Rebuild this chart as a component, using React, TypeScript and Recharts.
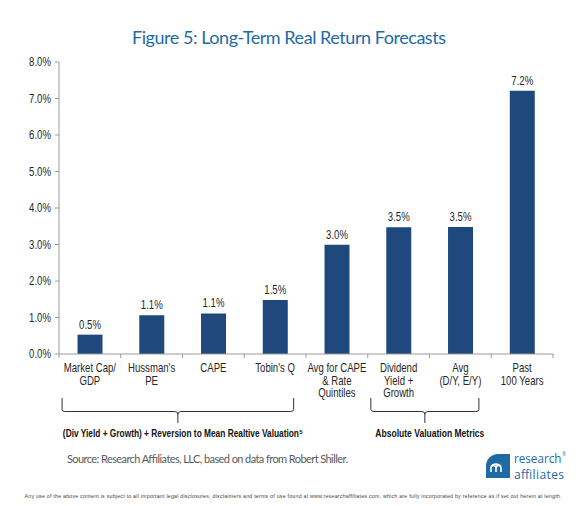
import React from "react";
import { BarChart, Bar, XAxis, YAxis, LabelList } from "recharts";

const categories = [
  "Market Cap/\nGDP",
  "Hussman's\nPE",
  "CAPE",
  "Tobin's Q",
  "Avg for CAPE\n& Rate\nQuintiles",
  "Dividend\nYield +\nGrowth",
  "Avg\n(D/Y, E/Y)",
  "Past\n100 Years",
];
const realReturn = [0.53, 1.06, 1.11, 1.48, 2.99, 3.47, 3.48, 7.21];
const yTicks = [0, 1, 2, 3, 4, 5, 6, 7, 8];

// brace groups: first / last category index covered
const groupStart = [0, 5];
const groupEnd = [3, 6];
const groupLabels = ["(Div Yield + Growth) + Reversion to Mean Realtive Valuation\u2075", "Absolute Valuation Metrics"];
const groupLabelWidths = [240, 109];

const W = 585;
const H = 506;
const PLOT_LEFT = 59;
const PLOT_RIGHT = 553;
const PLOT_TOP = 62;
const PLOT_BOTTOM = 354;
const Y_AXIS_W = 40;
const X_AXIS_H = 60;
const BAND = (PLOT_RIGHT - PLOT_LEFT) / categories.length;

const BAR = "#1f497d";
const AXIS = "#9a9a9a";
const INK = "#262626";
const FONT = "'Liberation Sans', Arial, sans-serif";
const SQUEEZE = 0.8; // the original uses a narrow Arial

const data = categories.map((name, i) => ({ name, value: realReturn[i] }));

const pct = (v: number) => `${Number(v).toFixed(1)}%`;

function NarrowText({ x, y, anchor, children }: { x: number; y: number; anchor: string; children: any }) {
  return (
    <text
      transform={`translate(${x},${y}) scale(${SQUEEZE},1)`}
      textAnchor={anchor}
      fontSize={12}
      fill={INK}
      fontFamily={FONT}
    >
      {children}
    </text>
  );
}

function CategoryTick(props: any) {
  const { x, y, payload, index } = props;
  const lines = String(payload.value).split("\n");
  return (
    <g>
      <line x1={x - BAND / 2} x2={x - BAND / 2} y1={y} y2={y + 4} stroke={AXIS} />
      {index === categories.length - 1 && (
        <line x1={x + BAND / 2} x2={x + BAND / 2} y1={y} y2={y + 4} stroke={AXIS} />
      )}
      <NarrowText x={x} y={y + 18} anchor="middle">
        {lines.map((l, i) => (
          <tspan key={i} x={0} dy={i === 0 ? 0 : 12.6}>
            {l}
          </tspan>
        ))}
      </NarrowText>
    </g>
  );
}

function PercentTick(props: any) {
  const { x, y, payload } = props;
  return (
    <NarrowText x={x} y={y + 4} anchor="end">
      {pct(payload.value)}
    </NarrowText>
  );
}

function ValueLabel(props: any) {
  const { x, y, width, value } = props;
  return (
    <NarrowText x={x + width / 2} y={y - 6} anchor="middle">
      {pct(value)}
    </NarrowText>
  );
}

// brace under a group of categories, drawn from the category band positions
function Brace({ start, end, label, labelW }: { start: number; end: number; label: string; labelW: number }) {
  const x1 = PLOT_LEFT + (start + 0.05) * BAND;
  const x2 = PLOT_LEFT + (end + 0.8) * BAND;
  const mid = (x1 + x2) / 2;
  const top = 398;
  const base = 411.5;
  return (
    <g>
      <path
        d={`M${x1},${top} L${x1},${base - 2} Q${x1},${base} ${x1 + 3},${base} L${mid - 3},${base} Q${mid},${base} ${mid},${base + 3} L${mid},423 M${mid},${base + 3} Q${mid},${base} ${mid + 3},${base} L${x2 - 3},${base} Q${x2},${base} ${x2},${base - 2} L${x2},${top}`}
        fill="none"
        stroke="#333"
        strokeWidth={1}
      />
      <text
        x={mid + 5 - labelW / 2}
        y={437}
        fontSize={10.5}
        fontWeight="bold"
        fill="#111"
        fontFamily={FONT}
        textLength={labelW}
        lengthAdjust="spacingAndGlyphs"
      >
        {label}
      </text>
    </g>
  );
}

export default function App() {
  return (
    <div style={{ position: "absolute", left: 0, top: 0, width: W, height: H, background: "#fff" }}>
      <BarChart
        width={W}
        height={H}
        data={data}
        barCategoryGap="30%"
        margin={{ top: PLOT_TOP, right: W - PLOT_RIGHT, bottom: H - PLOT_BOTTOM - X_AXIS_H, left: PLOT_LEFT - Y_AXIS_W }}
      >
        <XAxis
          dataKey="name"
          height={X_AXIS_H}
          interval={0}
          tickSize={0}
          tickMargin={0}
          axisLine={{ stroke: AXIS }}
          tickLine={false}
          tick={<CategoryTick />}
        />
        <YAxis
          width={Y_AXIS_W}
          domain={[0, 8]}
          ticks={yTicks}
          axisLine={{ stroke: AXIS }}
          tickLine={{ stroke: AXIS }}
          tickSize={4}
          tickMargin={4}
          tick={<PercentTick />}
        />
        <Bar dataKey="value" fill={BAR} isAnimationActive={false}>
          <LabelList dataKey="value" content={<ValueLabel />} />
        </Bar>
      </BarChart>

      <svg width={W} height={H} style={{ position: "absolute", left: 0, top: 0, pointerEvents: "none" }}>
        <text x={289} y={44} textAnchor="middle" fontSize={18} fill="#1f6aa5" fontFamily="Lato, 'Open Sans', sans-serif" textLength={314}>
          Figure 5: Long-Term Real Return Forecasts
        </text>
        {groupLabels.map((label, i) => (
          <Brace key={i} start={groupStart[i]} end={groupEnd[i]} label={label} labelW={groupLabelWidths[i]} />
        ))}
        <text x={67} y={463} fontSize={11} fill="#595959" fontFamily="Lato, 'Open Sans', sans-serif" textLength={281}>
          Source: Research Affiliates, LLC, based on data from Robert Shiller.
        </text>
        {/* logo */}
        <path d="M486,478 L486,466 A12,12 0 0 1 498,454 L510,454 L510,478 Z" fill="#1d6aa4" />
        <path d="M491,472 L491,468 A2.5,2.5 0 0 1 496,468 L496,472 M496,468 A2.5,2.5 0 0 1 501,468 L501,472 M491,466 Q496,462 501,466" fill="none" stroke="#fff" strokeWidth={1.6} />
        <text x={514} y={463} fontSize={12} fill="#1d6aa4" fontFamily="'Open Sans', Lato, sans-serif" textLength={52} lengthAdjust="spacingAndGlyphs">
          research
          <tspan fontSize={4.5} dx={1} dy={-7}>®</tspan>
        </text>
        <text x={514} y={479} fontSize={12} fill="#1d6aa4" fontFamily="'Open Sans', Lato, sans-serif" textLength={50}>
          affiliates
        </text>
        <text x={293} y={498} textAnchor="middle" fontSize={5.3} fill="#444" fontFamily={FONT} textLength={537}>
          Any use of the above content is subject to all important legal disclosures, disclaimers and terms of use found at www.researchaffiliates.com, which are fully incorporated by reference as if set out herein at length.
        </text>
      </svg>
    </div>
  );
}
